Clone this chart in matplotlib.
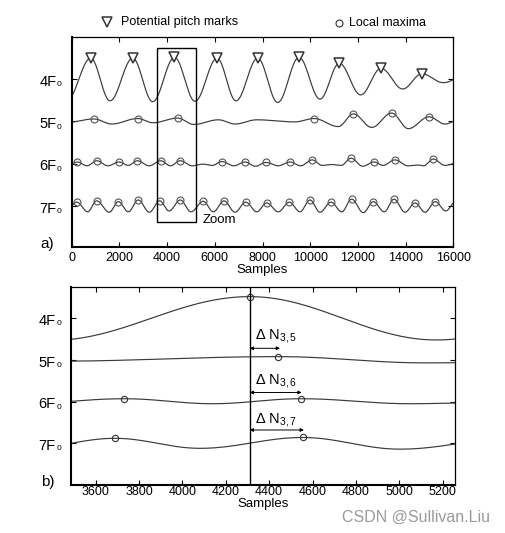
import numpy as np
import matplotlib
matplotlib.use("Agg")
import matplotlib.pyplot as plt
from matplotlib.lines import Line2D
from matplotlib.patches import Rectangle

plt.rcParams['font.family'] = ['Liberation Sans', 'DejaVu Sans']
plt.rcParams['mathtext.fontset'] = 'custom'
plt.rcParams['mathtext.rm'] = 'Liberation Sans'
plt.rcParams['mathtext.it'] = 'Liberation Sans'

# ---- data: extrema (samples, offset value) ----
f4_x = [-200, 797, 1606, 2558, 3396, 4310, 5170, 6093, 6889, 7799, 8637, 9530,
        10411, 11220, 12117, 12970, 13878, 14680, 15581, 16400]
f4_y = [-4.50, -3.50, -4.51, -3.50, -4.53, -3.48, -4.52, -3.50, -4.51, -3.50,
        -4.55, -3.48, -4.47, -3.62, -4.37, -3.74, -4.23, -3.87, -4.08, -3.95]
f4_marks = [797, 2558, 4310, 6093, 7799, 9530, 11220, 12970, 14680]

f5_x = [-300, 935, 1677, 2767, 3400, 4442, 5120, 6150, 6850, 7760, 9350, 10159,
        11180, 11810, 12580, 13417, 14115, 14980, 15650, 16300]
f5_y = [-5.03, -4.94, -5.06, -4.93, -5.03, -4.92, -5.07, -4.96, -5.06, -4.96,
        -5.01, -4.93, -5.12, -4.82, -5.14, -4.80, -5.17, -4.89, -5.06, -4.95]
f5_marks = [935, 2767, 4442, 10159, 11810, 13417, 14980]

f6_x = [-200, 235, 640, 1048, 1520, 1984, 2373, 2751, 3254, 3732, 4140, 4546,
        5050, 5500, 5900, 6289, 6800, 7266, 7700, 8147, 8660, 9153, 9600, 10088,
        10500, 10900, 11300, 11711, 12200, 12675, 13050, 13556, 14100, 14500,
        14750, 15161, 15650, 16200]
f6_y = [-6.04, -5.96, -6.05, -5.93, -6.05, -5.96, -6.04, -5.93, -6.05, -5.93,
        -6.05, -5.93, -6.05, -6.01, -6.04, -5.95, -6.05, -5.96, -6.06, -5.97,
        -6.05, -5.96, -6.05, -5.91, -6.04, -6.02, -6.04, -5.87, -6.06, -5.96,
        -6.04, -5.91, -6.05, -6.03, -6.05, -5.89, -6.04, -5.98]
f6_marks = [235, 1048, 1984, 2751, 3732, 4546, 6289, 7266, 8147, 9153, 10088,
            11711, 12675, 13556, 15161]

f7_x = [-250, 210, 671, 1048, 1577, 1954, 2373, 2792, 3254, 3689, 4081, 4554,
        5003, 5518, 5937, 6386, 6847, 7296, 7757, 8176, 8662, 9124, 9572, 9992,
        10411, 10872, 11321, 11740, 12226, 12646, 13107, 13514, 13975, 14394,
        14814, 15245, 15681, 16100]
f7_y = [-7.14, -6.91, -7.14, -6.88, -7.15, -6.90, -7.14, -6.86, -7.15, -6.88,
        -7.12, -6.86, -7.14, -6.89, -7.14, -6.88, -7.15, -6.91, -7.14, -6.93,
        -7.14, -6.91, -7.14, -6.86, -7.15, -6.91, -7.14, -6.84, -7.16, -6.90,
        -7.14, -6.84, -7.15, -6.93, -7.15, -6.90, -7.12, -6.90]
f7_marks = [210, 1048, 1954, 2792, 3689, 4554, 5518, 6386, 7296, 8176, 9124,
            9992, 10872, 11740, 12646, 13514, 14394, 15245]

row_levels = [-4, -5, -6, -7]
row_labels = ['4F', '5F', '6F', '7F']
row_sub = '0'
top_xticks = [0, 2000, 4000, 6000, 8000, 10000, 12000, 14000, 16000]
bot_xticks = [3600, 3800, 4000, 4200, 4400, 4600, 4800, 5000, 5200]
zoom_range = (3560, 5230)
pitch_mark = 4310
delta_ends = [4450, 4550, 4560]


def smooth(ex, ey, n=80):
    xs, ys = [], []
    for i in range(len(ex) - 1):
        t = np.linspace(0, 1, n, endpoint=False)
        xs.append(ex[i] + (ex[i + 1] - ex[i]) * t)
        ys.append(ey[i] + (ey[i + 1] - ey[i]) * (1 - np.cos(np.pi * t)) / 2)
    xs.append([ex[-1]])
    ys.append([ey[-1]])
    return np.concatenate(xs), np.concatenate(ys)


curves = [(f4_x, f4_y, f4_marks), (f5_x, f5_y, f5_marks),
          (f6_x, f6_y, f6_marks), (f7_x, f7_y, f7_marks)]

LC = '#3a3a3a'
W, H = 505, 533
fig = plt.figure(figsize=(W / 100, H / 100), dpi=100)

ax1 = fig.add_axes([71.7 / W, 1 - 246.7 / H, (453.3 - 71.7) / W, (246.7 - 37.3) / H])
ax2 = fig.add_axes([71.0 / W, 1 - 485.0 / H, (455.0 - 71.0) / W, (485.0 - 286.7) / H])


def style(ax, xticks, pad_x):
    ax.set_yticks(row_levels)
    ax.set_yticklabels([])
    for lvl, lab in zip(row_levels, row_labels):
        ax.annotate(lab, xy=(0, lvl), xycoords=('axes fraction', 'data'),
                    xytext=(-10.9, -4.8), textcoords='offset points',
                    ha='right', va='baseline', fontsize=10.5)
        ax.annotate(row_sub, xy=(0, lvl), xycoords=('axes fraction', 'data'),
                    xytext=(-10.6, -5.1), textcoords='offset points',
                    ha='left', va='baseline', fontsize=6)
    ax.set_xticks(xticks)
    ax.set_xticklabels([str(v) for v in xticks], fontsize=9)
    ax.tick_params(direction='in', top=True, right=True, length=3.5, width=0.8)
    ax.tick_params(axis='x', pad=pad_x)
    ax.set_xlabel('Samples', fontsize=9.5, labelpad=0)
    for s in ['left', 'bottom']:
        ax.spines[s].set_linewidth(1.5)
    for s in ['top', 'right']:
        ax.spines[s].set_linewidth(0.9)


# ---- top panel ----
for i, (ex, ey, mk) in enumerate(curves):
    xs, ys = smooth(ex, ey)
    ax1.plot(xs, ys, color=LC, lw=0.85, zorder=2)
    my = np.interp(mk, xs, ys)
    if i == 0:
        ax1.plot(mk, my, ls='none', marker='v', ms=7, mfc='white', mec='#333333',
                 mew=1.1, zorder=3)
    else:
        ax1.plot(mk, my, ls='none', marker='o', ms=5, mfc='none', mec='#555555',
                 mew=0.8, zorder=3)
ax1.set_xlim(0, 16000)
ax1.set_ylim(-7.967, -3.005)
style(ax1, top_xticks, 3.5)
ax1.add_patch(Rectangle((zoom_range[0], -7.39), zoom_range[1] - zoom_range[0], 7.39 - 3.27,
                        fill=False, ec='black', lw=1.0, zorder=4))
ax1.text(5500, -7.33, 'Zoom', fontsize=9.5, va='center', ha='left')

# ---- bottom panel ----
for i, (ex, ey, mk) in enumerate(curves):
    xs, ys = smooth(ex, ey)
    ax2.plot(xs, ys, color=LC, lw=0.85, zorder=2)
    my = np.interp(mk, xs, ys)
    ax2.plot(mk, my, ls='none', marker='o', ms=4.5, mfc='none', mec='#333333',
             mew=0.8, zorder=3)
ax2.set_xlim(3486, 5257)
ax2.set_ylim(-8.0, -3.242)
style(ax2, bot_xticks, 1)
ax2.axvline(pitch_mark, color='black', lw=1.0, zorder=4)

arrow_y = [-4.72, -5.78, -6.68]
text_y = [-4.43, -5.50, -6.43]
subs = ['3,5', '3,6', '3,7']
for ay, ty, xe, sb in zip(arrow_y, text_y, delta_ends, subs):
    ax2.annotate('', xy=(xe, ay), xytext=(pitch_mark, ay),
                 arrowprops=dict(arrowstyle='<|-|>', color='black', lw=0.7,
                                 mutation_scale=5, shrinkA=0, shrinkB=0))
    ax2.text(pitch_mark + 25, ty, 'Δ N$_{' + sb + '}$', fontsize=10.5, va='center', ha='left')

# ---- legend and panel labels ----
fig.add_artist(Line2D([107 / W], [1 - 21.5 / H], transform=fig.transFigure, marker='v',
                      ms=7, mfc='white', mec='#333333', mew=1.1, ls='none'))
fig.text(121 / W, 1 - 21.5 / H, 'Potential pitch marks', fontsize=9, va='center', ha='left')
fig.add_artist(Line2D([339 / W], [1 - 23.3 / H], transform=fig.transFigure, marker='o',
                      ms=5, mfc='none', mec='#333333', mew=0.8, ls='none'))
fig.text(349 / W, 1 - 23.3 / H, 'Local maxima', fontsize=9, va='center', ha='left')

fig.text(40 / W, 1 - 244 / H, 'a)', fontsize=11, va='center', ha='left')
fig.text(41.5 / W, 1 - 482 / H, 'b)', fontsize=11, va='center', ha='left')
fig.text(490 / W, 1 - 517 / H, 'CSDN @Sullivan.Liu', fontsize=11.5, color='#9a9a9a',
         va='center', ha='right')

fig.savefig('out.png', dpi=100)
